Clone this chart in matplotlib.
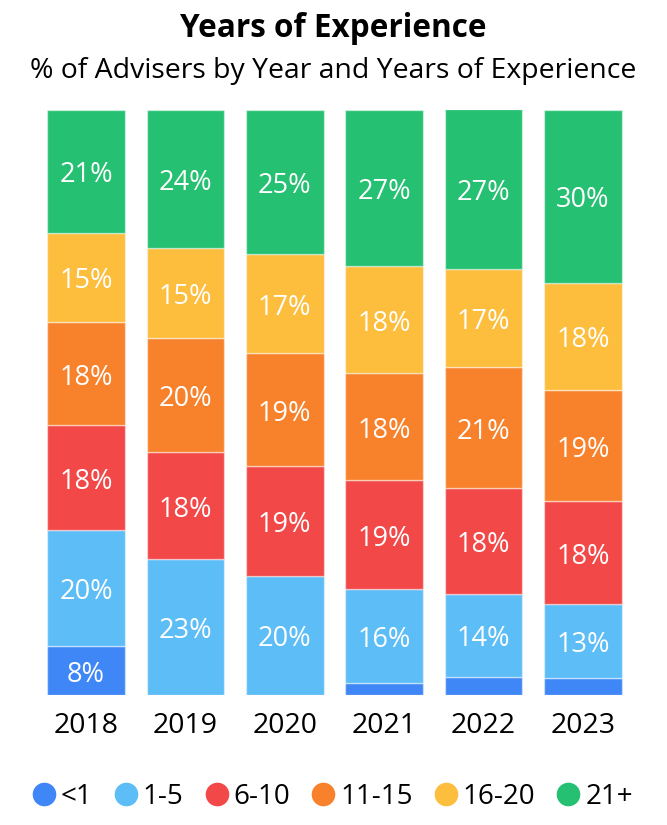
import numpy as np
import matplotlib.pyplot as plt
from matplotlib.lines import Line2D

plt.rcParams['font.family'] = ['Open Sans', 'DejaVu Sans']

years = ['2018', '2019', '2020', '2021', '2022', '2023']
groups = ['<1', '1-5', '6-10', '11-15', '16-20', '21+']

# % of advisers (bottom to top)
lt1 = [8.3, 0.0, 0.0, 2.0, 3.1, 2.9]
y1_5 = [19.9, 23.3, 20.4, 16.1, 14.2, 12.7]
y6_10 = [17.9, 18.2, 18.8, 18.6, 18.1, 17.5]
y11_15 = [17.7, 19.6, 19.2, 18.3, 20.6, 19.1]
y16_20 = [15.2, 15.3, 16.9, 18.4, 16.9, 18.3]
y21p = [21.0, 23.6, 24.7, 26.6, 27.2, 29.5]

series = [lt1, y1_5, y6_10, y11_15, y16_20, y21p]
colors = ['#3F86F7', '#5DBDF6', '#F24848', '#F8822C', '#FDBD3D', '#25C072']

fig = plt.figure(figsize=(6.67, 8.25), dpi=100)
ax = fig.add_axes([0.0544, 0.1576, 0.894, 0.7091])

x = np.arange(len(years))
bottom = np.zeros(len(years))
for vals, col in zip(series, colors):
    vals = np.array(vals)
    ax.bar(x, vals, bottom=bottom, width=0.78, color=col,
           edgecolor=(1, 1, 1, 0.45), linewidth=1)
    for xi, b, v in zip(x, bottom, vals):
        if v >= 5:
            ax.text(xi, b + v / 2 - 0.7, f'{v:.0f}%', ha='center', va='center',
                    color='white', fontsize=19.5)
    bottom += vals

ax.set_xlim(-0.5, 5.5)
ax.set_ylim(0, 100)
ax.set_xticks(x)
ax.set_xticklabels(years, fontsize=20.5)
ax.set_yticks([])
ax.tick_params(axis='x', length=0, pad=12)
for s in ax.spines.values():
    s.set_visible(False)

fig.text(0.5, 0.9552, 'Years of Experience', ha='center', va='baseline',
         fontsize=22.7, fontweight='bold')
fig.text(0.5, 0.9055, '% of Advisers by Year and Years of Experience',
         ha='center', va='baseline', fontsize=20.4)

handles = [Line2D([], [], marker='o', linestyle='none', markersize=17,
                  markerfacecolor=c, markeredgecolor='none') for c in colors]
fig.legend(handles, groups, loc='center', bbox_to_anchor=(0.497, 0.034),
           ncol=6, frameon=False, fontsize=20, handletextpad=0.1,
           columnspacing=0.7, handlelength=1.0)

fig.savefig('out.png', dpi=100)
